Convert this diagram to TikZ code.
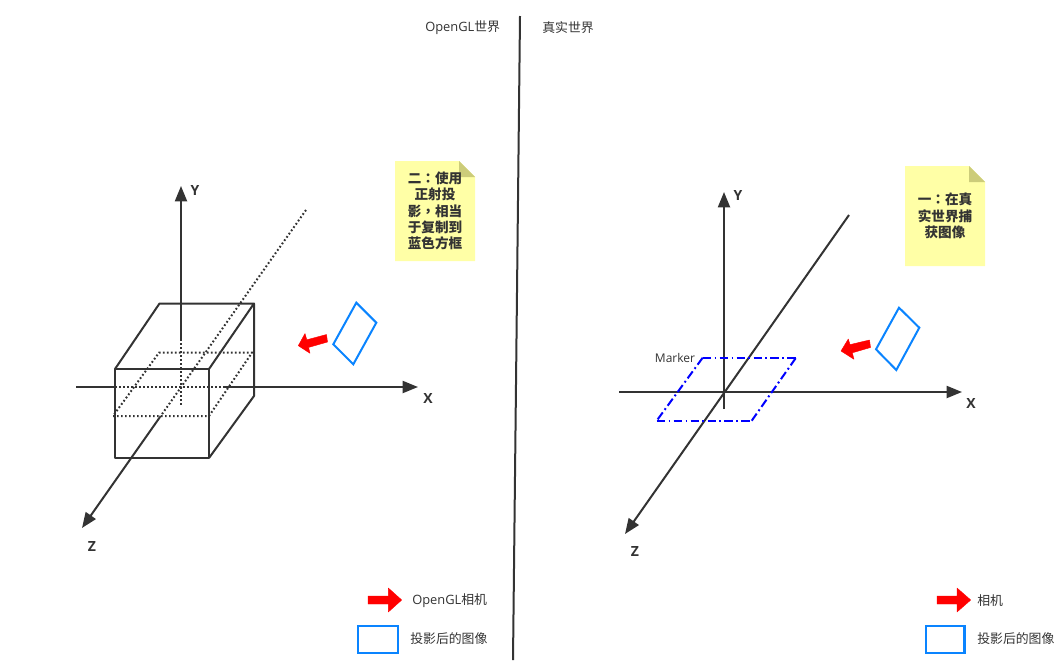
\documentclass[tikz,border=0pt]{standalone}
\usepackage{fontspec}
\setmainfont{Open Sans}
\newfontfamily\cjk{Noto Sans CJK SC}
\newfontfamily\cjkp{Noto Sans CJK TC}
\usetikzlibrary{arrows.meta}
\definecolor{ink}{HTML}{333333}
\definecolor{notefill}{HTML}{FFFFA6}
\definecolor{notefold}{HTML}{CCCC7A}
\definecolor{framebl}{HTML}{0A84FF}
\tikzset{
  solidl/.style={draw=ink,line width=1.5pt},
  dotl/.style={draw=ink,line width=1.5pt,dash pattern=on 1.3pt off 1.7pt},
  axis/.style={solidl,-{Triangle[length=11.5pt,width=9pt]}},
  markerl/.style={draw=blue,line width=1.5pt,dash pattern=on 6.5pt off 2.4pt on 1.4pt off 2.4pt},
  frameb/.style={draw=framebl,line width=1.5pt,line join=miter},
  legendb/.style={draw=framebl,line width=1.6pt},
  redarrow/.style={fill=red,draw=red,line width=.3pt,line join=round},
  txt/.style={inner sep=0pt,text=ink,font=\cjk\fontsize{9.65pt}{12pt}\selectfont},
  axl/.style={inner sep=0pt,text=ink,font=\bfseries\fontsize{10.5pt}{12pt}\selectfont},
  notetxt/.style={inner sep=0pt,text=ink,align=center,font=\cjk\bfseries\fontsize{10.2pt}{12.2pt}\selectfont},
  notebody/.style={fill=notefill,draw=none},
  notecorner/.style={fill=notefold,draw=none}
}
\begin{document}
\begin{tikzpicture}[x=0.75pt,y=-0.75pt]
\useasboundingbox (0,0) rectangle (1064,668);
% divider
\coordinate (divT) at (520,16);
\coordinate (divB) at (513,660);
\draw[solidl] (divT) -- (divB);
\node[txt,anchor=west] (tL) at (425,27.5) {{\rmfamily OpenGL}世界};
\node[txt,anchor=west] (tR) at (542,27.5) {真实世界};
% left axes
\coordinate (lO) at (181,387);
\coordinate (lYtop) at (181,186);
\coordinate (lYm) at (181,339);
\coordinate (lYb) at (181,405);
\coordinate (lXl) at (76,387);
\coordinate (lXm) at (223,387);
\coordinate (lXr) at (418,387);
\coordinate (lXa) at (115,387);
\coordinate (lZt) at (306,210);
\coordinate (lZm) at (160,417);
\coordinate (lZb) at (82,528);
\draw[axis] (lYm) -- (lYtop);
\draw[dotl] (lYm) -- (lYb);
\draw[solidl] (lXl) -- (lXa);
\draw[dotl] (lXa) -- (lXm);
\draw[axis] (lXm) -- (lXr);
\draw[dotl] (lZt) -- (lZm);
\draw[axis] (lZm) -- (lZb);
% box
\coordinate (bA) at (115,369);
\coordinate (bB) at (209,369);
\coordinate (bC) at (209,458);
\coordinate (bD) at (115,458);
\coordinate (bE) at (159.5,303.5);
\coordinate (bF) at (254,303.5);
\coordinate (bG) at (254,396);
\draw[solidl,line join=round] (bA) -- (bB) -- (bC) -- (bD) -- cycle;
\draw[solidl,line join=round] (bA) -- (bE) -- (bF) -- (bB);
\draw[solidl,line join=round] (bF) -- (bG) -- (bC);
% slice
\coordinate (pA) at (113,416);
\coordinate (pB) at (209,416);
\coordinate (pC) at (252,352.7);
\coordinate (pD) at (159,352.7);
\draw[dotl] (pA) -- (pB) -- (pC) -- (pD) -- cycle;
\node[axl] (lY) at (195,190) {Y};
\node[axl] (lX) at (428,398) {X};
\node[axl] (lZ) at (92,546) {Z};
% left camera and frame
\draw[frameb] (356.3,302.7) -- (376.3,322.7) -- (353.3,364.3) -- (333.3,344.3) -- cycle;
\draw[redarrow] (298.3,345.7) -- (305,333.5) -- (306.8,339.8) -- (326.5,334.5) -- (327.5,342) -- (308.6,347.4) -- (310,353.3) -- cycle;
% left note
\fill[notebody] (395,161) -- (459,161) -- (475,177) -- (475,261) -- (395,261) -- cycle;
\fill[notecorner] (459,161) -- (475,177) -- (459,177) -- cycle;
\node[notetxt] (nL) at (435,211) {二{\cjkp ：}使用\\正射投\\影{\cjkp ，}相当\\于复制到\\蓝色方框};
% right axes
\coordinate (rYb) at (724,409);
\coordinate (rYt) at (724,192);
\coordinate (rXl) at (619,392);
\coordinate (rXr) at (962,392);
\coordinate (rZt) at (849,215);
\coordinate (rZb) at (625,534);
\draw[axis] (rYb) -- (rYt);
\draw[axis] (rXl) -- (rXr);
\draw[axis] (rZt) -- (rZb);
\coordinate (mA) at (656.7,420.7);
\coordinate (mB) at (751.7,420.7);
\coordinate (mC) at (796,357.7);
\coordinate (mD) at (702.7,357.7);
\draw[markerl] (mB) -- (mC);
\draw[markerl] (mD) -- (mC);
\draw[markerl] (mD) -- (mA);
\draw[markerl] (mA) -- (mB);
\node[axl] (rY) at (738,195) {Y};
\node[axl] (rX) at (971,403) {X};
\node[axl] (rZ) at (635,551) {Z};
\node[inner sep=0pt,text=ink,font=\fontsize{9pt}{11pt}\selectfont] (mk) at (675,358) {Marker};
% right camera and frame
\draw[frameb] (899,307.7) -- (919.3,327.7) -- (896.3,370) -- (876,349.3) -- cycle;
\draw[redarrow] (841,351) -- (848.3,339) -- (850,344.6) -- (869.5,340) -- (870.5,347.5) -- (852.3,352.8) -- (854,359.3) -- cycle;
% right note
\fill[notebody] (905,166) -- (969,166) -- (985,182) -- (985,266) -- (905,266) -- cycle;
\fill[notecorner] (969,166) -- (985,182) -- (969,182) -- cycle;
\node[notetxt] (nR) at (945,216) {一{\cjkp ：}在真\\实世界捕\\获图像};
% legends
\draw[redarrow] (368,596) -- (388.3,596) -- (388.3,588) -- (401.7,600) -- (388.3,612) -- (388.3,604) -- (368,604) -- cycle;
\node[txt,anchor=west] (l1) at (412,600.5) {{\rmfamily OpenGL}相机};
\draw[legendb] (358.3,626) rectangle (398,653);
\node[txt,anchor=west] (l2) at (410,639) {投影后的图像};
\draw[redarrow] (937,596) -- (957,596) -- (957,588) -- (970.7,600) -- (957,612) -- (957,604) -- (937,604) -- cycle;
\node[txt,anchor=west] (r1) at (977,600.5) {相机};
\draw[legendb] (925.7,626) rectangle (964.5,653);
\node[txt,anchor=west] (r2) at (977,639) {投影后的图像};
\end{tikzpicture}
\end{document}
